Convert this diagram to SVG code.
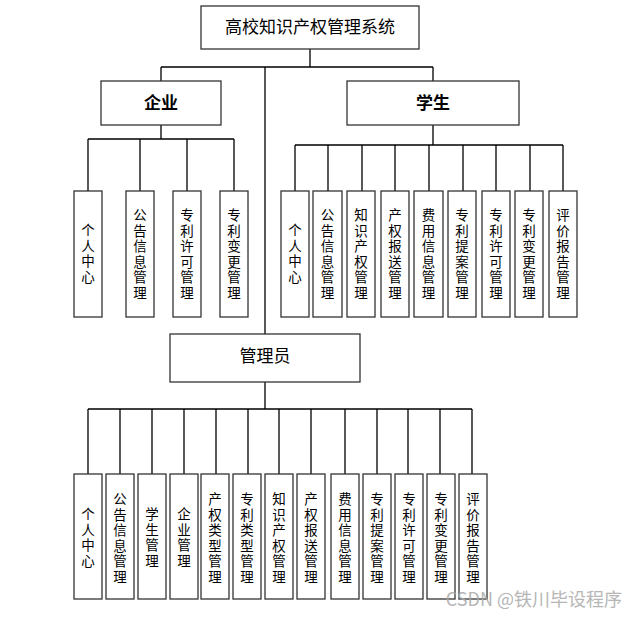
<svg xmlns="http://www.w3.org/2000/svg" width="637" height="617" viewBox="0 0 637 617">
<style>
.b{fill:#fff;stroke:#333;stroke-width:1.3}
.c{fill:none;stroke:#000;stroke-width:1.3}
text{font-family:"Noto Sans CJK SC","Liberation Sans",sans-serif;fill:#000;text-anchor:middle}
.s{font-size:13.5px}
.h{font-size:17px}
</style>
<rect width="637" height="617" fill="#fff"/>
<g id="connectors">
<path class="c" d="M310 49V67M161 67H433M161 67V81M433 67V81M265 67V334"/>
<path class="c" d="M161 125V139M88 139H234M88 139V191M140 139V191M187 139V191M234 139V191"/>
<path class="c" d="M433 125V145M295 145H563M295 145V191M328 145V191M362 145V191M395 145V191M429 145V191M463 145V191M496 145V191M530 145V191M563 145V191"/>
<path class="c" d="M265 382V409M88 409H472M88 409V474M120 409V474M152 409V474M184 409V474M216 409V474M248 409V474M279 409V474M311 409V474M345 409V474M377 409V474M408 409V474M440 409V474M472 409V474"/>
</g>
<g id="root"><rect class="b" x="201" y="6" width="218" height="43"/><text class="h" x="310" y="33">高校知识产权管理系统</text></g>
<g id="qiye"><rect class="b" x="101" y="81" width="120" height="44"/><text class="h" x="161" y="109" font-weight="bold">企业</text></g>
<g id="xuesheng"><rect class="b" x="347" y="81" width="172" height="44"/><text class="h" x="433" y="109" font-weight="bold">学生</text></g>
<g id="admin"><rect class="b" x="170" y="334" width="190" height="48"/><text class="h" x="265" y="362">管理员</text></g>

<g id="q1"><rect class="b" x="74" y="191" width="28" height="126"/><text class="s" x="88" y="235"><tspan x="88">个</tspan><tspan x="88" dy="15.5">人</tspan><tspan x="88" dy="15.5">中</tspan><tspan x="88" dy="15.5">心</tspan></text></g>
<g id="q2"><rect class="b" x="126" y="191" width="28" height="126"/><text class="s" x="140" y="220"><tspan x="140">公</tspan><tspan x="140" dy="15.5">告</tspan><tspan x="140" dy="15.5">信</tspan><tspan x="140" dy="15.5">息</tspan><tspan x="140" dy="15.5">管</tspan><tspan x="140" dy="15.5">理</tspan></text></g>
<g id="q3"><rect class="b" x="173" y="191" width="28" height="126"/><text class="s" x="187" y="220"><tspan x="187">专</tspan><tspan x="187" dy="15.5">利</tspan><tspan x="187" dy="15.5">许</tspan><tspan x="187" dy="15.5">可</tspan><tspan x="187" dy="15.5">管</tspan><tspan x="187" dy="15.5">理</tspan></text></g>
<g id="q4"><rect class="b" x="220" y="191" width="28" height="126"/><text class="s" x="234" y="220"><tspan x="234">专</tspan><tspan x="234" dy="15.5">利</tspan><tspan x="234" dy="15.5">变</tspan><tspan x="234" dy="15.5">更</tspan><tspan x="234" dy="15.5">管</tspan><tspan x="234" dy="15.5">理</tspan></text></g>

<g id="x1"><rect class="b" x="281" y="191" width="28" height="126"/><text class="s" x="295" y="235"><tspan x="295">个</tspan><tspan x="295" dy="15.5">人</tspan><tspan x="295" dy="15.5">中</tspan><tspan x="295" dy="15.5">心</tspan></text></g>
<g id="x2"><rect class="b" x="313" y="191" width="29" height="126"/><text class="s" x="327.5" y="220"><tspan x="327.5">公</tspan><tspan x="327.5" dy="15.5">告</tspan><tspan x="327.5" dy="15.5">信</tspan><tspan x="327.5" dy="15.5">息</tspan><tspan x="327.5" dy="15.5">管</tspan><tspan x="327.5" dy="15.5">理</tspan></text></g>
<g id="x3"><rect class="b" x="347" y="191" width="28" height="126"/><text class="s" x="361" y="220"><tspan x="361">知</tspan><tspan x="361" dy="15.5">识</tspan><tspan x="361" dy="15.5">产</tspan><tspan x="361" dy="15.5">权</tspan><tspan x="361" dy="15.5">管</tspan><tspan x="361" dy="15.5">理</tspan></text></g>
<g id="x4"><rect class="b" x="381" y="191" width="28" height="126"/><text class="s" x="395" y="220"><tspan x="395">产</tspan><tspan x="395" dy="15.5">权</tspan><tspan x="395" dy="15.5">报</tspan><tspan x="395" dy="15.5">送</tspan><tspan x="395" dy="15.5">管</tspan><tspan x="395" dy="15.5">理</tspan></text></g>
<g id="x5"><rect class="b" x="414" y="191" width="29" height="126"/><text class="s" x="428.5" y="220"><tspan x="428.5">费</tspan><tspan x="428.5" dy="15.5">用</tspan><tspan x="428.5" dy="15.5">信</tspan><tspan x="428.5" dy="15.5">息</tspan><tspan x="428.5" dy="15.5">管</tspan><tspan x="428.5" dy="15.5">理</tspan></text></g>
<g id="x6"><rect class="b" x="448" y="191" width="28" height="126"/><text class="s" x="462" y="220"><tspan x="462">专</tspan><tspan x="462" dy="15.5">利</tspan><tspan x="462" dy="15.5">提</tspan><tspan x="462" dy="15.5">案</tspan><tspan x="462" dy="15.5">管</tspan><tspan x="462" dy="15.5">理</tspan></text></g>
<g id="x7"><rect class="b" x="482" y="191" width="28" height="126"/><text class="s" x="496" y="220"><tspan x="496">专</tspan><tspan x="496" dy="15.5">利</tspan><tspan x="496" dy="15.5">许</tspan><tspan x="496" dy="15.5">可</tspan><tspan x="496" dy="15.5">管</tspan><tspan x="496" dy="15.5">理</tspan></text></g>
<g id="x8"><rect class="b" x="515" y="191" width="28" height="126"/><text class="s" x="529" y="220"><tspan x="529">专</tspan><tspan x="529" dy="15.5">利</tspan><tspan x="529" dy="15.5">变</tspan><tspan x="529" dy="15.5">更</tspan><tspan x="529" dy="15.5">管</tspan><tspan x="529" dy="15.5">理</tspan></text></g>
<g id="x9"><rect class="b" x="549" y="191" width="28" height="126"/><text class="s" x="563" y="220"><tspan x="563">评</tspan><tspan x="563" dy="15.5">价</tspan><tspan x="563" dy="15.5">报</tspan><tspan x="563" dy="15.5">告</tspan><tspan x="563" dy="15.5">管</tspan><tspan x="563" dy="15.5">理</tspan></text></g>

<g id="a1"><rect class="b" x="74" y="474" width="28" height="125"/><text class="s" x="88" y="519"><tspan x="88">个</tspan><tspan x="88" dy="15.5">人</tspan><tspan x="88" dy="15.5">中</tspan><tspan x="88" dy="15.5">心</tspan></text></g>
<g id="a2"><rect class="b" x="106" y="474" width="28" height="125"/><text class="s" x="120" y="504"><tspan x="120">公</tspan><tspan x="120" dy="15.5">告</tspan><tspan x="120" dy="15.5">信</tspan><tspan x="120" dy="15.5">息</tspan><tspan x="120" dy="15.5">管</tspan><tspan x="120" dy="15.5">理</tspan></text></g>
<g id="a3"><rect class="b" x="138" y="474" width="28" height="125"/><text class="s" x="152" y="519"><tspan x="152">学</tspan><tspan x="152" dy="15.5">生</tspan><tspan x="152" dy="15.5">管</tspan><tspan x="152" dy="15.5">理</tspan></text></g>
<g id="a4"><rect class="b" x="170" y="474" width="28" height="125"/><text class="s" x="184" y="519"><tspan x="184">企</tspan><tspan x="184" dy="15.5">业</tspan><tspan x="184" dy="15.5">管</tspan><tspan x="184" dy="15.5">理</tspan></text></g>
<g id="a5"><rect class="b" x="201" y="474" width="28" height="125"/><text class="s" x="215" y="504"><tspan x="215">产</tspan><tspan x="215" dy="15.5">权</tspan><tspan x="215" dy="15.5">类</tspan><tspan x="215" dy="15.5">型</tspan><tspan x="215" dy="15.5">管</tspan><tspan x="215" dy="15.5">理</tspan></text></g>
<g id="a6"><rect class="b" x="233" y="474" width="28" height="125"/><text class="s" x="247" y="504"><tspan x="247">专</tspan><tspan x="247" dy="15.5">利</tspan><tspan x="247" dy="15.5">类</tspan><tspan x="247" dy="15.5">型</tspan><tspan x="247" dy="15.5">管</tspan><tspan x="247" dy="15.5">理</tspan></text></g>
<g id="a7"><rect class="b" x="265" y="474" width="28" height="125"/><text class="s" x="279" y="504"><tspan x="279">知</tspan><tspan x="279" dy="15.5">识</tspan><tspan x="279" dy="15.5">产</tspan><tspan x="279" dy="15.5">权</tspan><tspan x="279" dy="15.5">管</tspan><tspan x="279" dy="15.5">理</tspan></text></g>
<g id="a8"><rect class="b" x="297" y="474" width="28" height="125"/><text class="s" x="311" y="504"><tspan x="311">产</tspan><tspan x="311" dy="15.5">权</tspan><tspan x="311" dy="15.5">报</tspan><tspan x="311" dy="15.5">送</tspan><tspan x="311" dy="15.5">管</tspan><tspan x="311" dy="15.5">理</tspan></text></g>
<g id="a9"><rect class="b" x="331" y="474" width="28" height="125"/><text class="s" x="345" y="504"><tspan x="345">费</tspan><tspan x="345" dy="15.5">用</tspan><tspan x="345" dy="15.5">信</tspan><tspan x="345" dy="15.5">息</tspan><tspan x="345" dy="15.5">管</tspan><tspan x="345" dy="15.5">理</tspan></text></g>
<g id="a10"><rect class="b" x="363" y="474" width="28" height="125"/><text class="s" x="377" y="504"><tspan x="377">专</tspan><tspan x="377" dy="15.5">利</tspan><tspan x="377" dy="15.5">提</tspan><tspan x="377" dy="15.5">案</tspan><tspan x="377" dy="15.5">管</tspan><tspan x="377" dy="15.5">理</tspan></text></g>
<g id="a11"><rect class="b" x="395" y="474" width="28" height="125"/><text class="s" x="409" y="504"><tspan x="409">专</tspan><tspan x="409" dy="15.5">利</tspan><tspan x="409" dy="15.5">许</tspan><tspan x="409" dy="15.5">可</tspan><tspan x="409" dy="15.5">管</tspan><tspan x="409" dy="15.5">理</tspan></text></g>
<g id="a12"><rect class="b" x="427" y="474" width="28" height="125"/><text class="s" x="441" y="504"><tspan x="441">专</tspan><tspan x="441" dy="15.5">利</tspan><tspan x="441" dy="15.5">变</tspan><tspan x="441" dy="15.5">更</tspan><tspan x="441" dy="15.5">管</tspan><tspan x="441" dy="15.5">理</tspan></text></g>
<g id="a13"><rect class="b" x="459" y="474" width="28" height="125"/><text class="s" x="473" y="504"><tspan x="473">评</tspan><tspan x="473" dy="15.5">价</tspan><tspan x="473" dy="15.5">报</tspan><tspan x="473" dy="15.5">告</tspan><tspan x="473" dy="15.5">管</tspan><tspan x="473" dy="15.5">理</tspan></text></g>

<text x="622" y="606" style="font-size:18px;text-anchor:end;fill:#aaa;opacity:0.85">CSDN @铁川毕设程序</text>
</svg>
